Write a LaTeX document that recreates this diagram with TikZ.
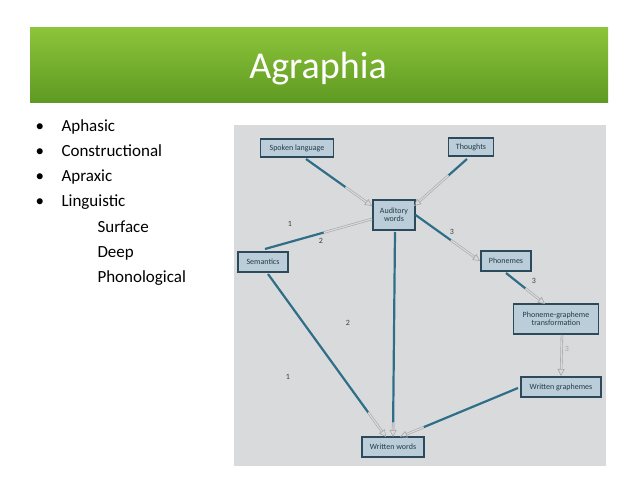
\documentclass[tikz,border=0pt]{standalone}
\usepackage{fontspec}
\setmainfont{Carlito}
\usetikzlibrary{calc,arrows.meta}
\definecolor{photo}{HTML}{D9DADC}
\definecolor{boxf}{HTML}{BACDD8}
\definecolor{boxd}{HTML}{2C4A5C}
\definecolor{teal}{HTML}{2F6E88}
\definecolor{gA}{HTML}{8CC43A}
\definecolor{gB}{HTML}{5E9A22}
\tikzset{
  bx/.style={draw=boxd,line width=1.2pt,fill=boxf,font=\fontsize{8}{8.5}\selectfont,text=boxd!80!black,align=center,inner sep=2pt},
  solidpart/.style={draw=teal,line width=2.2pt},
  hollow/.style={draw=gray!70,double=photo,double distance=1.2pt,line width=0.6pt,-{Triangle[open,length=7pt,width=7pt]}},
  hollownt/.style={draw=gray!70,double=photo,double distance=1.2pt,line width=0.6pt},
  lab/.style={font=\fontsize{8}{9}\selectfont,text=black!75},
  bul/.style={anchor=base west,font=\fontsize{17}{20}\selectfont}
}
\newcommand{\flowarrow}[3]{%
  \draw[solidpart] (#1) -- ($(#1)!#3!(#2)$);
  \draw[hollow] ($(#1)!#3!(#2)$) -- (#2);}
\begin{document}
\begin{tikzpicture}[x=1pt,y=-1pt]
\useasboundingbox[fill=white] (0,0) rectangle (638,478);
\shade[top color=gA,bottom color=gB] (30,28) rectangle (608,103);
\node[text=white,font=\fontsize{38}{42}\selectfont] (title) at (318,69) {Agraphia};
\foreach \t/\y [count=\i] in {Aphasic/132,Constructional/157,Apraxic/182,Linguistic/207}{
  \node[bul] (d\i) at (32,\y) {\textbullet};
  \node[bul] (b\i) at (58,\y) {\t};}
\node[bul] (s1) at (94,233) {Surface};
\node[bul] (s2) at (94,258) {Deep};
\node[bul] (s3) at (94,283) {Phonological};
\fill[photo] (234,125) rectangle (606,466);
\node[bx,minimum width=73pt,minimum height=18pt] (spk) at (297,148) {Spoken language};
\node[bx,minimum width=45pt,minimum height=18pt] (tho) at (471,147) {Thoughts};
\node[bx,minimum width=42pt,minimum height=30pt] (aud) at (394,215) {Auditory\\words};
\node[bx,minimum width=50pt,minimum height=20pt] (sem) at (263,262) {Semantics};
\node[bx,minimum width=50pt,minimum height=20pt] (pho) at (506,261) {Phonemes};
\node[bx,minimum width=85pt,minimum height=30pt] (pg) at (556,319) {Phoneme-grapheme\\transformation};
\node[bx,minimum width=80pt,minimum height=20pt] (wg) at (561,387) {Written graphemes};
\node[bx,minimum width=62pt,minimum height=20pt] (ww) at (393,447) {Written words};
\coordinate (spkO) at (306,159);
\coordinate (thoO) at (467,159);
\coordinate (audL) at (372,206);
\coordinate (audRt) at (414,206);
\coordinate (audB) at (395,232);
\coordinate (semT) at (265,249);
\coordinate (semB) at (268,274);
\coordinate (audLL) at (372,219);
\coordinate (phoL) at (480,261);
\coordinate (phoB) at (506,273);
\coordinate (pgT) at (545,304);
\coordinate (pgB) at (562,335);
\coordinate (wgT) at (561,376);
\coordinate (wgL) at (518,388);
\coordinate (wwT1) at (386,437);
\coordinate (wwT2) at (393,437);
\coordinate (wwT3) at (400,437);
\flowarrow{spkO}{audL}{0.6}
\flowarrow{thoO}{audRt}{0.35}
\draw[solidpart] (semT) -- ($(semT)!0.55!(audLL)$);
\draw[hollownt] ($(semT)!0.55!(audLL)$) -- (audLL);
\flowarrow{aud.east}{phoL}{0.55}
\flowarrow{phoB}{pgT}{0.5}
\draw[hollow] (pgB) -- (wgT);
\flowarrow{semB}{wwT1}{0.85}
\flowarrow{audB}{wwT2}{0.93}
\flowarrow{wgL}{wwT3}{0.8}
\node[lab] (l1) at (290,224) {1};
\node[lab] (l2) at (321,241) {2};
\node[lab] (l3) at (452,232) {3};
\node[lab] (l4) at (534,281) {3};
\node[lab] (l5) at (348,323) {2};
\node[lab] (l6) at (288,377) {1};
\node[lab,text=black!35] (l7) at (567,349) {3};
\end{tikzpicture}
\end{document}
